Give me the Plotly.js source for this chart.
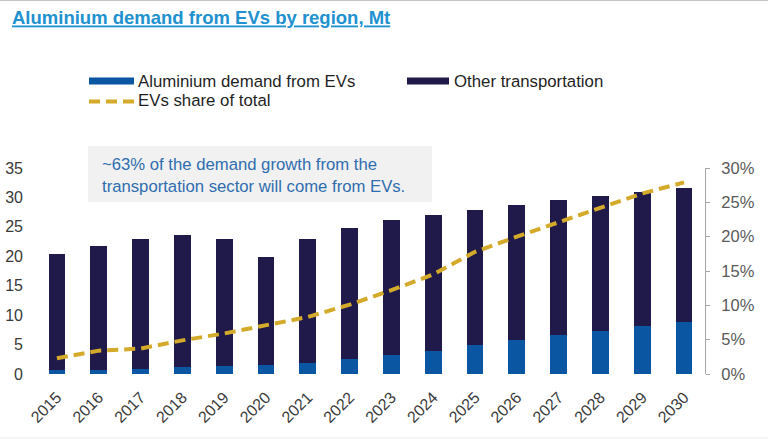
<!DOCTYPE html>
<html>
<head>
<meta charset="utf-8">
<script src="https://cdn.plot.ly/plotly-3.0.1.min.js"></script>
<style>
  html, body { margin: 0; padding: 0; background: #ffffff; }
  #chart { width: 768px; height: 440px; }
</style>
</head>
<body>
<div id="chart"></div>
<script>
// Years on the category axis
const years = ['2015', '2016', '2017', '2018', '2019', '2020', '2021', '2022',
               '2023', '2024', '2025', '2026', '2027', '2028', '2029', '2030'];

// Aluminium demand, Mt (stacked bars)
const evDemand = [0.6, 0.7, 0.9, 1.2, 1.4, 1.5, 1.9, 2.5,
                  3.2, 3.9, 4.9, 5.8, 6.6, 7.3, 8.2, 8.8];
const otherTransport = [19.8, 21.0, 22.0, 22.5, 21.5, 18.3, 21.0, 22.3,
                        22.9, 23.1, 23.0, 22.9, 22.9, 22.9, 22.7, 22.8];

// EVs share of total transportation demand, %
const evShare = [2.3, 3.4, 3.7, 4.9, 5.9, 7.1, 8.3, 10.1,
                 12.2, 14.5, 17.8, 20.0, 22.1, 24.2, 26.3, 27.9];

const seriesNames = ['Aluminium demand from EVs', 'Other transportation', 'EVs share of total'];
const chartTitle = 'Aluminium demand from EVs by region, Mt';
const calloutText = '~63% of the demand growth from the<br>transportation sector will come from EVs.';

const FONT = 'Liberation Sans, Arial, Helvetica, sans-serif';
const EV_BLUE = '#0a56a2';
const NAVY = '#201a4b';
const GOLD = '#d4aa2a';

// Plot area geometry (px) used to place the legend and call-out in paper units
const W = 768, H = 440;
const M = { l: 36, r: 63, t: 168, b: 66 };
const PW = W - M.l - M.r, PH = H - M.t - M.b;
const fx = px => (px - M.l) / PW;
const fy = py => (H - M.b - py) / PH;

const traces = [
  {
    type: 'bar', name: seriesNames[0], x: years, y: evDemand,
    marker: { color: EV_BLUE }, showlegend: false, hoverinfo: 'x+y'
  },
  {
    type: 'bar', name: seriesNames[1], x: years, y: otherTransport,
    marker: { color: NAVY }, showlegend: false, hoverinfo: 'x+y'
  },
  {
    type: 'scatter', mode: 'lines', name: seriesNames[2], x: years, y: evShare,
    yaxis: 'y2', line: { color: GOLD, width: 4, dash: '11px,6px' },
    showlegend: false, hoverinfo: 'x+y'
  }
];

const shapes = [
  // thin frame lines at the top and bottom of the slide
  { type: 'line', xref: 'paper', yref: 'paper', x0: fx(0), x1: fx(W), y0: fy(0.5), y1: fy(0.5),
    line: { color: '#c4c4c4', width: 1 } },
  { type: 'line', xref: 'paper', yref: 'paper', x0: fx(0), x1: fx(W), y0: fy(438), y1: fy(438),
    line: { color: '#ececec', width: 1 } },
  // call-out box
  { type: 'rect', xref: 'paper', yref: 'paper', layer: 'below',
    x0: fx(88), x1: fx(432), y0: fy(202), y1: fy(146),
    fillcolor: '#f1f1f1', line: { width: 0 } },
  // legend swatches
  { type: 'rect', xref: 'paper', yref: 'paper', x0: fx(89), x1: fx(134), y0: fy(84.5), y1: fy(77.5),
    fillcolor: EV_BLUE, line: { width: 0 } },
  { type: 'rect', xref: 'paper', yref: 'paper', x0: fx(407), x1: fx(449), y0: fy(84.5), y1: fy(77.5),
    fillcolor: NAVY, line: { width: 0 } },
  { type: 'line', xref: 'paper', yref: 'paper', x0: fx(89), x1: fx(134), y0: fy(101.5), y1: fy(101.5),
    line: { color: GOLD, width: 4, dash: '11px,6px' } }
];

const legendFont = { family: FONT, size: 16.8, color: '#1f1f1f' };
const annotations = [
  { xref: 'paper', yref: 'paper', x: fx(136), y: fy(81), xanchor: 'left', yanchor: 'middle',
    showarrow: false, text: seriesNames[0], font: legendFont },
  { xref: 'paper', yref: 'paper', x: fx(452), y: fy(81), xanchor: 'left', yanchor: 'middle',
    showarrow: false, text: seriesNames[1], font: legendFont },
  { xref: 'paper', yref: 'paper', x: fx(136), y: fy(101), xanchor: 'left', yanchor: 'middle',
    showarrow: false, text: seriesNames[2], font: legendFont },
  { xref: 'paper', yref: 'paper', x: fx(100), y: fy(175), xanchor: 'left', yanchor: 'middle',
    align: 'left', showarrow: false, text: calloutText,
    font: { family: FONT, size: 16.7, color: '#2f6db0' } }
];

const layout = {
  width: W, height: H,
  margin: M,
  paper_bgcolor: '#ffffff', plot_bgcolor: 'rgba(0,0,0,0)',
  font: { family: FONT },
  title: {
    text: chartTitle,
    x: 12 / W, xanchor: 'left', xref: 'container',
    y: 1 - 18 / H, yanchor: 'middle', yref: 'container',
    font: { family: FONT, size: 18.5, weight: 'bold', color: '#2191d0', lineposition: 'under' }
  },
  barmode: 'stack',
  bargap: 0.6,
  showlegend: false,
  xaxis: {
    type: 'category',
    tickangle: -45,
    showgrid: false, zeroline: false, showline: false, ticks: '',
    ticklabelstandoff: 10,
    tickfont: { family: FONT, size: 16, color: '#3a3a3a' }
  },
  yaxis: {
    range: [0, 35], dtick: 5,
    showgrid: false, zeroline: false, showline: false, ticks: '',
    ticklabelstandoff: 12,
    tickfont: { family: FONT, size: 16, color: '#3a3a3a' }
  },
  yaxis2: {
    overlaying: 'y', side: 'right',
    range: [0, 30], dtick: 5, ticksuffix: '%',
    showgrid: false, zeroline: false,
    showline: true, linecolor: '#a6a6a6', linewidth: 1,
    ticks: 'outside', ticklen: 4, tickcolor: '#a6a6a6',
    ticklabelstandoff: 8,
    tickfont: { family: FONT, size: 16.5, color: '#5a5a5a' }
  },
  shapes: shapes,
  annotations: annotations
};

Plotly.newPlot('chart', traces, layout, { displayModeBar: false, staticPlot: true });
</script>
</body>
</html>
